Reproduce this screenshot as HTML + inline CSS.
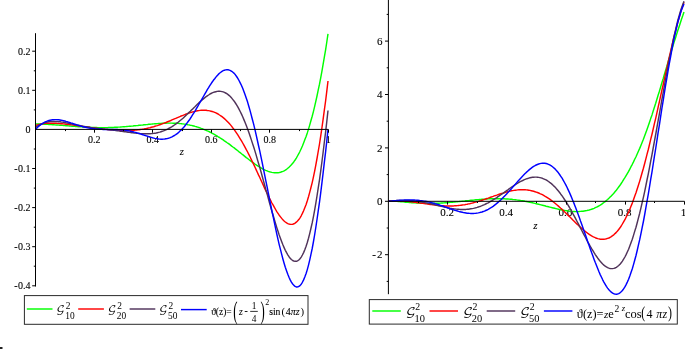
<!DOCTYPE html>
<html lang="en"><head><meta charset="utf-8"><title>Plots</title>
<style>html,body{margin:0;padding:0;background:#fff}svg{display:block}text{font-family:"Liberation Serif","DejaVu Serif",serif;fill:#000}.t{font-size:10px;stroke:#000;stroke-width:.1px}.t2{font-size:11px;stroke:#000;stroke-width:.1px}.i{font-style:italic}.sg{font-family:"DejaVu Math TeX Gyre","DejaVu Serif","Liberation Serif",serif}.c{fill:none;stroke-width:1.45;stroke-linejoin:round;stroke-linecap:butt}.ax{stroke:#000;stroke-width:1;fill:none}</style></head><body>
<svg width="685" height="349" viewBox="0 0 685 349">
<rect width="685" height="349" fill="#fff"/>
<defs><clipPath id="cl"><rect x="0" y="0" width="329.2" height="349"/></clipPath><clipPath id="cr"><rect x="343" y="0" width="342" height="349"/></clipPath></defs>
<text class="t" x="30.4" y="54.8" text-anchor="end">0.2</text>
<text class="t" x="30.4" y="93.9" text-anchor="end">0.1</text>
<text class="t" x="30.4" y="133.0" text-anchor="end">0</text>
<text class="t" y="172.1" text-anchor="end"><tspan x="17.6" dy="-0.4">-</tspan><tspan x="30.4" dy="0.4">0.1</tspan></text>
<text class="t" y="211.2" text-anchor="end"><tspan x="17.6" dy="-0.4">-</tspan><tspan x="30.4" dy="0.4">0.2</tspan></text>
<text class="t" y="250.3" text-anchor="end"><tspan x="17.6" dy="-0.4">-</tspan><tspan x="30.4" dy="0.4">0.3</tspan></text>
<text class="t" y="289.4" text-anchor="end"><tspan x="17.6" dy="-0.4">-</tspan><tspan x="30.4" dy="0.4">0.4</tspan></text>
<text class="t" x="94.2" y="142.9" text-anchor="middle">0.2</text>
<text class="t" x="152.7" y="142.9" text-anchor="middle">0.4</text>
<text class="t" x="211.2" y="142.9" text-anchor="middle">0.6</text>
<text class="t" x="269.7" y="142.9" text-anchor="middle">0.8</text>
<text class="t" x="328.2" y="142.9" text-anchor="middle">1</text>
<text class="t i" x="181.7" y="154.9" text-anchor="middle" style="font-size:10.6px">z</text>
<text class="t2" x="382.6" y="44.8" text-anchor="end">6</text>
<text class="t2" x="382.6" y="98.2" text-anchor="end">4</text>
<text class="t2" x="382.6" y="151.6" text-anchor="end">2</text>
<text class="t2" x="382.6" y="205.0" text-anchor="end">0</text>
<text class="t2" y="258.4" text-anchor="end"><tspan x="375.9" dy="-0.4">-</tspan><tspan x="382.6" dy="0.4">2</tspan></text>
<text class="t2" x="447.1" y="216.2" text-anchor="middle">0.2</text>
<text class="t2" x="506.2" y="216.2" text-anchor="middle">0.4</text>
<text class="t2" x="565.4" y="216.2" text-anchor="middle">0.6</text>
<text class="t2" x="624.5" y="216.2" text-anchor="middle">0.8</text>
<text class="t2" x="683.6" y="216.2" text-anchor="middle">1</text>
<text class="t2 i" x="535.4" y="228.7" text-anchor="middle">z</text>
<g clip-path="url(#cl)">
<polyline class="c" stroke="#00ff00" points="35.5,123.9 36.7,123.9 37.9,124.0 39.2,124.0 40.4,124.0 41.6,124.1 42.8,124.1 44.0,124.2 45.2,124.2 46.5,124.3 47.7,124.4 48.9,124.5 50.1,124.5 51.3,124.6 52.6,124.7 53.8,124.8 55.0,124.9 56.2,125.0 57.4,125.0 58.7,125.1 59.9,125.2 61.1,125.3 62.3,125.4 63.5,125.5 64.8,125.6 66.0,125.7 67.2,125.8 68.4,125.9 69.6,126.0 70.8,126.1 72.1,126.2 73.3,126.3 74.5,126.4 75.7,126.5 76.9,126.6 78.2,126.7 79.4,126.7 80.6,126.8 81.8,126.9 83.0,127.0 84.2,127.1 85.5,127.1 86.7,127.2 87.9,127.2 89.1,127.3 90.3,127.4 91.6,127.4 92.8,127.4 94.0,127.5 95.2,127.5 96.4,127.5 97.7,127.6 98.9,127.6 100.1,127.6 101.3,127.6 102.5,127.6 103.8,127.6 105.0,127.6 106.2,127.6 107.4,127.6 108.6,127.5 109.8,127.5 111.1,127.5 112.3,127.4 113.5,127.4 114.7,127.3 115.9,127.3 117.2,127.2 118.4,127.1 119.6,127.1 120.8,127.0 122.0,126.9 123.2,126.8 124.5,126.7 125.7,126.6 126.9,126.5 128.1,126.4 129.3,126.3 130.6,126.2 131.8,126.1 133.0,126.0 134.2,125.8 135.4,125.7 136.7,125.6 137.9,125.5 139.1,125.3 140.3,125.2 141.5,125.1 142.8,125.0 144.0,124.8 145.2,124.7 146.4,124.6 147.6,124.5 148.8,124.3 150.1,124.2 151.3,124.1 152.5,124.0 153.7,123.9 154.9,123.8 156.2,123.7 157.4,123.6 158.6,123.5 159.8,123.4 161.0,123.4 162.2,123.3 163.5,123.3 164.7,123.2 165.9,123.2 167.1,123.1 168.3,123.1 169.6,123.1 170.8,123.1 172.0,123.1 173.2,123.2 174.4,123.2 175.7,123.3 176.9,123.3 178.1,123.4 179.3,123.5 180.5,123.6 181.8,123.8 183.0,123.9 184.2,124.1 185.4,124.2 186.6,124.4 187.8,124.7 189.1,124.9 190.3,125.2 191.5,125.4 192.7,125.7 193.9,126.0 195.2,126.4 196.4,126.7 197.6,127.1 198.8,127.5 200.0,127.9 201.2,128.4 202.5,128.8 203.7,129.3 204.9,129.8 206.1,130.3 207.3,130.9 208.6,131.4 209.8,132.0 211.0,132.7 212.2,133.3 213.4,133.9 214.7,134.6 215.9,135.3 217.1,136.0 218.3,136.8 219.5,137.5 220.8,138.3 222.0,139.1 223.2,139.9 224.4,140.8 225.6,141.6 226.8,142.5 228.1,143.3 229.3,144.2 230.5,145.1 231.7,146.1 232.9,147.0 234.2,147.9 235.4,148.9 236.6,149.8 237.8,150.8 239.0,151.8 240.2,152.7 241.5,153.7 242.7,154.7 243.9,155.6 245.1,156.6 246.3,157.6 247.6,158.5 248.8,159.5 250.0,160.4 251.2,161.3 252.4,162.2 253.7,163.1 254.9,164.0 256.1,164.8 257.3,165.6 258.5,166.4 259.8,167.2 261.0,167.9 262.2,168.6 263.4,169.3 264.6,169.9 265.8,170.4 267.1,170.9 268.3,171.4 269.5,171.8 270.7,172.1 271.9,172.4 273.2,172.6 274.4,172.7 275.6,172.8 276.8,172.8 278.0,172.7 279.2,172.5 280.5,172.2 281.7,171.8 282.9,171.4 284.1,170.8 285.3,170.1 286.6,169.3 287.8,168.3 289.0,167.3 290.2,166.1 291.4,164.8 292.7,163.3 293.9,161.7 295.1,160.0 296.3,158.1 297.5,156.0 298.8,153.7 300.0,151.3 301.2,148.7 302.4,146.0 303.6,143.0 304.8,139.8 306.1,136.4 307.3,132.9 308.5,129.1 309.7,125.1 310.9,120.8 312.2,116.3 313.4,111.6 314.6,106.7 315.8,101.4 317.0,96.0 318.2,90.2 319.5,84.2 320.7,77.9 321.9,71.3 323.1,64.4 324.3,57.3 325.6,49.8 326.8,42.0 328.0,33.9"/>
<polyline class="c" stroke="#ff0000" points="35.5,125.5 36.7,125.1 37.9,124.8 39.2,124.4 40.4,124.2 41.6,123.9 42.8,123.7 44.0,123.6 45.2,123.4 46.5,123.3 47.7,123.2 48.9,123.2 50.1,123.2 51.3,123.1 52.6,123.2 53.8,123.2 55.0,123.2 56.2,123.3 57.4,123.4 58.7,123.5 59.9,123.6 61.1,123.7 62.3,123.8 63.5,123.9 64.8,124.0 66.0,124.2 67.2,124.3 68.4,124.5 69.6,124.6 70.8,124.8 72.1,124.9 73.3,125.1 74.5,125.3 75.7,125.4 76.9,125.6 78.2,125.8 79.4,125.9 80.6,126.1 81.8,126.3 83.0,126.5 84.2,126.6 85.5,126.8 86.7,127.0 87.9,127.1 89.1,127.3 90.3,127.5 91.6,127.6 92.8,127.8 94.0,127.9 95.2,128.1 96.4,128.3 97.7,128.4 98.9,128.6 100.1,128.7 101.3,128.9 102.5,129.0 103.8,129.1 105.0,129.3 106.2,129.4 107.4,129.5 108.6,129.6 109.8,129.7 111.1,129.8 112.3,129.9 113.5,130.0 114.7,130.1 115.9,130.2 117.2,130.3 118.4,130.3 119.6,130.4 120.8,130.4 122.0,130.5 123.2,130.5 124.5,130.5 125.7,130.5 126.9,130.5 128.1,130.5 129.3,130.5 130.6,130.4 131.8,130.4 133.0,130.3 134.2,130.2 135.4,130.1 136.7,130.0 137.9,129.8 139.1,129.7 140.3,129.5 141.5,129.4 142.8,129.2 144.0,129.0 145.2,128.7 146.4,128.5 147.6,128.2 148.8,127.9 150.1,127.7 151.3,127.3 152.5,127.0 153.7,126.7 154.9,126.3 156.2,125.9 157.4,125.6 158.6,125.1 159.8,124.7 161.0,124.3 162.2,123.9 163.5,123.4 164.7,122.9 165.9,122.5 167.1,122.0 168.3,121.5 169.6,121.0 170.8,120.5 172.0,119.9 173.2,119.4 174.4,118.9 175.7,118.4 176.9,117.8 178.1,117.3 179.3,116.8 180.5,116.3 181.8,115.8 183.0,115.3 184.2,114.8 185.4,114.3 186.6,113.9 187.8,113.5 189.1,113.0 190.3,112.6 191.5,112.3 192.7,111.9 193.9,111.6 195.2,111.3 196.4,111.0 197.6,110.8 198.8,110.6 200.0,110.4 201.2,110.3 202.5,110.3 203.7,110.2 204.9,110.3 206.1,110.3 207.3,110.5 208.6,110.6 209.8,110.9 211.0,111.2 212.2,111.5 213.4,111.9 214.7,112.4 215.9,112.9 217.1,113.5 218.3,114.2 219.5,115.0 220.8,115.8 222.0,116.7 223.2,117.6 224.4,118.6 225.6,119.7 226.8,120.9 228.1,122.2 229.3,123.5 230.5,124.9 231.7,126.4 232.9,128.0 234.2,129.6 235.4,131.3 236.6,133.1 237.8,134.9 239.0,136.8 240.2,138.8 241.5,140.9 242.7,143.0 243.9,145.1 245.1,147.4 246.3,149.7 247.6,152.0 248.8,154.4 250.0,156.8 251.2,159.3 252.4,161.9 253.7,164.4 254.9,167.0 256.1,169.6 257.3,172.2 258.5,174.9 259.8,177.5 261.0,180.2 262.2,182.8 263.4,185.4 264.6,188.1 265.8,190.7 267.1,193.2 268.3,195.7 269.5,198.2 270.7,200.6 271.9,203.0 273.2,205.2 274.4,207.4 275.6,209.5 276.8,211.6 278.0,213.4 279.2,215.2 280.5,216.9 281.7,218.4 282.9,219.8 284.1,221.0 285.3,222.0 286.6,222.9 287.8,223.6 289.0,224.0 290.2,224.3 291.4,224.4 292.7,224.2 293.9,223.8 295.1,223.1 296.3,222.2 297.5,221.0 298.8,219.6 300.0,217.8 301.2,215.8 302.4,213.4 303.6,210.8 304.8,207.8 306.1,204.5 307.3,200.8 308.5,196.8 309.7,192.4 310.9,187.7 312.2,182.6 313.4,177.2 314.6,171.3 315.8,165.1 317.0,158.5 318.2,151.5 319.5,144.0 320.7,136.2 321.9,128.0 323.1,119.4 324.3,110.4 325.6,101.0 326.8,91.2 328.0,81.0"/>
<polyline class="c" stroke="#50335a" points="35.5,127.6 36.7,126.7 37.9,125.9 39.2,125.1 40.4,124.5 41.6,123.9 42.8,123.4 44.0,122.9 45.2,122.6 46.5,122.2 47.7,122.0 48.9,121.8 50.1,121.6 51.3,121.5 52.6,121.4 53.8,121.4 55.0,121.4 56.2,121.5 57.4,121.6 58.7,121.7 59.9,121.8 61.1,122.0 62.3,122.1 63.5,122.3 64.8,122.5 66.0,122.8 67.2,123.0 68.4,123.2 69.6,123.5 70.8,123.7 72.1,124.0 73.3,124.3 74.5,124.5 75.7,124.8 76.9,125.0 78.2,125.3 79.4,125.5 80.6,125.8 81.8,126.0 83.0,126.2 84.2,126.4 85.5,126.6 86.7,126.8 87.9,127.0 89.1,127.2 90.3,127.4 91.6,127.6 92.8,127.8 94.0,127.9 95.2,128.1 96.4,128.3 97.7,128.4 98.9,128.6 100.1,128.7 101.3,128.8 102.5,129.0 103.8,129.1 105.0,129.3 106.2,129.4 107.4,129.5 108.6,129.7 109.8,129.8 111.1,130.0 112.3,130.1 113.5,130.2 114.7,130.4 115.9,130.6 117.2,130.7 118.4,130.9 119.6,131.0 120.8,131.2 122.0,131.3 123.2,131.5 124.5,131.7 125.7,131.8 126.9,132.0 128.1,132.2 129.3,132.4 130.6,132.5 131.8,132.7 133.0,132.8 134.2,133.0 135.4,133.1 136.7,133.3 137.9,133.4 139.1,133.5 140.3,133.6 141.5,133.7 142.8,133.7 144.0,133.8 145.2,133.8 146.4,133.8 147.6,133.8 148.8,133.8 150.1,133.7 151.3,133.6 152.5,133.5 153.7,133.4 154.9,133.2 156.2,133.0 157.4,132.7 158.6,132.4 159.8,132.1 161.0,131.7 162.2,131.3 163.5,130.9 164.7,130.4 165.9,129.9 167.1,129.3 168.3,128.7 169.6,128.0 170.8,127.3 172.0,126.6 173.2,125.8 174.4,125.0 175.7,124.1 176.9,123.2 178.1,122.3 179.3,121.3 180.5,120.3 181.8,119.2 183.0,118.2 184.2,117.1 185.4,115.9 186.6,114.8 187.8,113.6 189.1,112.4 190.3,111.3 191.5,110.1 192.7,108.9 193.9,107.7 195.2,106.5 196.4,105.3 197.6,104.1 198.8,102.9 200.0,101.8 201.2,100.7 202.5,99.6 203.7,98.6 204.9,97.6 206.1,96.7 207.3,95.8 208.6,95.0 209.8,94.2 211.0,93.5 212.2,92.9 213.4,92.4 214.7,92.0 215.9,91.7 217.1,91.4 218.3,91.3 219.5,91.3 220.8,91.4 222.0,91.6 223.2,91.9 224.4,92.4 225.6,93.0 226.8,93.7 228.1,94.6 229.3,95.6 230.5,96.8 231.7,98.1 232.9,99.6 234.2,101.2 235.4,103.0 236.6,104.9 237.8,106.9 239.0,109.2 240.2,111.5 241.5,114.1 242.7,116.7 243.9,119.6 245.1,122.5 246.3,125.6 247.6,128.9 248.8,132.2 250.0,135.7 251.2,139.4 252.4,143.1 253.7,147.0 254.9,150.9 256.1,154.9 257.3,159.1 258.5,163.3 259.8,167.5 261.0,171.8 262.2,176.2 263.4,180.6 264.6,185.0 265.8,189.5 267.1,193.9 268.3,198.3 269.5,202.7 270.7,207.0 271.9,211.3 273.2,215.5 274.4,219.6 275.6,223.7 276.8,227.6 278.0,231.3 279.2,234.9 280.5,238.4 281.7,241.7 282.9,244.8 284.1,247.6 285.3,250.3 286.6,252.7 287.8,254.8 289.0,256.7 290.2,258.2 291.4,259.5 292.7,260.5 293.9,261.1 295.1,261.3 296.3,261.3 297.5,260.8 298.8,260.0 300.0,258.7 301.2,257.1 302.4,255.0 303.6,252.6 304.8,249.7 306.1,246.3 307.3,242.5 308.5,238.3 309.7,233.6 310.9,228.5 312.2,222.9 313.4,216.9 314.6,210.4 315.8,203.4 317.0,196.0 318.2,188.2 319.5,179.9 320.7,171.2 321.9,162.0 323.1,152.5 324.3,142.5 325.6,132.2 326.8,121.5 328.0,110.5"/>
<polyline class="c" stroke="#0000ff" points="35.5,129.4 36.7,128.2 37.9,127.0 39.2,125.9 40.4,125.0 41.6,124.1 42.8,123.3 44.0,122.6 45.2,121.9 46.5,121.4 47.7,120.9 48.9,120.5 50.1,120.2 51.3,120.0 52.6,119.8 53.8,119.7 55.0,119.6 56.2,119.6 57.4,119.7 58.7,119.8 59.9,120.0 61.1,120.2 62.3,120.4 63.5,120.7 64.8,121.0 66.0,121.4 67.2,121.7 68.4,122.1 69.6,122.5 70.8,122.9 72.1,123.3 73.3,123.7 74.5,124.1 75.7,124.5 76.9,124.9 78.2,125.3 79.4,125.7 80.6,126.0 81.8,126.4 83.0,126.7 84.2,127.0 85.5,127.3 86.7,127.6 87.9,127.9 89.1,128.1 90.3,128.3 91.6,128.5 92.8,128.7 94.0,128.8 95.2,129.0 96.4,129.1 97.7,129.2 98.9,129.2 100.1,129.3 101.3,129.3 102.5,129.4 103.8,129.4 105.0,129.4 106.2,129.4 107.4,129.4 108.6,129.4 109.8,129.4 111.1,129.4 112.3,129.4 113.5,129.4 114.7,129.4 115.9,129.5 117.2,129.5 118.4,129.6 119.6,129.6 120.8,129.7 122.0,129.8 123.2,130.0 124.5,130.1 125.7,130.3 126.9,130.5 128.1,130.7 129.3,130.9 130.6,131.2 131.8,131.5 133.0,131.8 134.2,132.1 135.4,132.4 136.7,132.8 137.9,133.1 139.1,133.5 140.3,133.9 141.5,134.3 142.8,134.7 144.0,135.1 145.2,135.5 146.4,135.9 147.6,136.3 148.8,136.7 150.1,137.1 151.3,137.4 152.5,137.8 153.7,138.1 154.9,138.4 156.2,138.6 157.4,138.8 158.6,139.0 159.8,139.1 161.0,139.2 162.2,139.2 163.5,139.1 164.7,139.0 165.9,138.8 167.1,138.6 168.3,138.3 169.6,137.9 170.8,137.4 172.0,136.9 173.2,136.2 174.4,135.5 175.7,134.7 176.9,133.8 178.1,132.9 179.3,131.8 180.5,130.6 181.8,129.4 183.0,128.1 184.2,126.7 185.4,125.2 186.6,123.6 187.8,122.0 189.1,120.3 190.3,118.5 191.5,116.6 192.7,114.7 193.9,112.8 195.2,110.8 196.4,108.7 197.6,106.6 198.8,104.5 200.0,102.4 201.2,100.3 202.5,98.1 203.7,96.0 204.9,93.9 206.1,91.8 207.3,89.7 208.6,87.7 209.8,85.7 211.0,83.8 212.2,82.0 213.4,80.3 214.7,78.7 215.9,77.1 217.1,75.7 218.3,74.4 219.5,73.3 220.8,72.3 222.0,71.4 223.2,70.7 224.4,70.2 225.6,69.9 226.8,69.8 228.1,69.8 229.3,70.1 230.5,70.6 231.7,71.3 232.9,72.3 234.2,73.4 235.4,74.8 236.6,76.5 237.8,78.4 239.0,80.5 240.2,82.9 241.5,85.5 242.7,88.3 243.9,91.4 245.1,94.8 246.3,98.3 247.6,102.1 248.8,106.2 250.0,110.4 251.2,114.9 252.4,119.5 253.7,124.4 254.9,129.4 256.1,134.6 257.3,140.0 258.5,145.5 259.8,151.1 261.0,156.9 262.2,162.7 263.4,168.6 264.6,174.6 265.8,180.7 267.1,186.8 268.3,192.8 269.5,198.9 270.7,205.0 271.9,211.0 273.2,216.9 274.4,222.7 275.6,228.4 276.8,234.0 278.0,239.4 279.2,244.6 280.5,249.6 281.7,254.4 282.9,259.0 284.1,263.3 285.3,267.3 286.6,270.9 287.8,274.3 289.0,277.3 290.2,279.9 291.4,282.1 292.7,284.0 293.9,285.4 295.1,286.3 296.3,286.9 297.5,286.9 298.8,286.5 300.0,285.6 301.2,284.2 302.4,282.3 303.6,279.9 304.8,277.0 306.1,273.5 307.3,269.6 308.5,265.1 309.7,260.1 310.9,254.6 312.2,248.5 313.4,242.0 314.6,235.0 315.8,227.5 317.0,219.5 318.2,211.1 319.5,202.2 320.7,192.9 321.9,183.2 323.1,173.1 324.3,162.7 325.6,151.9 326.8,140.8 328.0,129.4"/>
</g>
<g clip-path="url(#cr)">
<polyline class="c" stroke="#00ff00" points="388.4,200.6 389.6,200.7 390.9,200.8 392.1,200.9 393.3,201.0 394.6,201.1 395.8,201.2 397.0,201.4 398.3,201.5 399.5,201.6 400.7,201.7 401.9,201.8 403.2,201.9 404.4,202.1 405.6,202.2 406.9,202.3 408.1,202.4 409.3,202.5 410.6,202.6 411.8,202.7 413.0,202.8 414.3,202.8 415.5,202.9 416.7,203.0 418.0,203.1 419.2,203.1 420.4,203.2 421.7,203.2 422.9,203.3 424.1,203.3 425.3,203.3 426.6,203.4 427.8,203.4 429.0,203.4 430.3,203.4 431.5,203.4 432.7,203.3 434.0,203.3 435.2,203.3 436.4,203.3 437.7,203.2 438.9,203.2 440.1,203.1 441.4,203.0 442.6,203.0 443.8,202.9 445.1,202.8 446.3,202.7 447.5,202.6 448.8,202.5 450.0,202.4 451.2,202.3 452.4,202.2 453.7,202.1 454.9,202.0 456.1,201.9 457.4,201.8 458.6,201.6 459.8,201.5 461.1,201.4 462.3,201.2 463.5,201.1 464.8,201.0 466.0,200.8 467.2,200.7 468.5,200.6 469.7,200.4 470.9,200.3 472.2,200.2 473.4,200.1 474.6,199.9 475.8,199.8 477.1,199.7 478.3,199.6 479.5,199.5 480.8,199.4 482.0,199.3 483.2,199.2 484.5,199.1 485.7,199.0 486.9,199.0 488.2,198.9 489.4,198.8 490.6,198.8 491.9,198.7 493.1,198.7 494.3,198.7 495.6,198.7 496.8,198.7 498.0,198.7 499.2,198.7 500.5,198.7 501.7,198.7 502.9,198.8 504.2,198.8 505.4,198.9 506.6,198.9 507.9,199.0 509.1,199.1 510.3,199.2 511.6,199.3 512.8,199.5 514.0,199.6 515.3,199.7 516.5,199.9 517.7,200.1 519.0,200.2 520.2,200.4 521.4,200.6 522.7,200.8 523.9,201.0 525.1,201.3 526.3,201.5 527.6,201.7 528.8,202.0 530.0,202.3 531.3,202.5 532.5,202.8 533.7,203.1 535.0,203.4 536.2,203.7 537.4,204.0 538.7,204.3 539.9,204.6 541.1,204.9 542.4,205.2 543.6,205.5 544.8,205.8 546.1,206.2 547.3,206.5 548.5,206.8 549.7,207.1 551.0,207.4 552.2,207.7 553.4,208.0 554.7,208.3 555.9,208.6 557.1,208.9 558.4,209.2 559.6,209.5 560.8,209.7 562.1,210.0 563.3,210.2 564.5,210.4 565.8,210.6 567.0,210.8 568.2,211.0 569.5,211.1 570.7,211.3 571.9,211.4 573.1,211.5 574.4,211.5 575.6,211.6 576.8,211.6 578.1,211.6 579.3,211.5 580.5,211.4 581.8,211.3 583.0,211.2 584.2,211.0 585.5,210.8 586.7,210.6 587.9,210.3 589.2,210.0 590.4,209.6 591.6,209.2 592.9,208.8 594.1,208.3 595.3,207.7 596.6,207.1 597.8,206.5 599.0,205.8 600.2,205.1 601.5,204.3 602.7,203.4 603.9,202.5 605.2,201.6 606.4,200.5 607.6,199.5 608.9,198.3 610.1,197.1 611.3,195.9 612.6,194.6 613.8,193.2 615.0,191.7 616.3,190.2 617.5,188.6 618.7,187.0 620.0,185.3 621.2,183.5 622.4,181.7 623.6,179.7 624.9,177.7 626.1,175.7 627.3,173.6 628.6,171.4 629.8,169.1 631.0,166.7 632.3,164.3 633.5,161.9 634.7,159.3 636.0,156.7 637.2,154.0 638.4,151.2 639.7,148.4 640.9,145.5 642.1,142.5 643.4,139.3 644.6,136.1 645.8,132.8 647.0,129.4 648.3,125.8 649.5,122.3 650.7,118.6 652.0,114.9 653.2,111.0 654.4,107.2 655.7,103.3 656.9,99.3 658.1,95.3 659.4,91.2 660.6,87.1 661.8,83.0 663.1,78.9 664.3,74.8 665.5,70.6 666.8,66.5 668.0,62.3 669.2,58.2 670.5,54.2 671.7,50.1 672.9,46.1 674.1,42.1 675.4,38.2 676.6,34.4 677.8,30.5 679.1,26.7 680.3,23.0 681.5,19.2 682.8,15.6 684.0,12.0"/>
<polyline class="c" stroke="#ff0000" points="388.4,200.9 389.6,200.8 390.9,200.8 392.1,200.7 393.3,200.7 394.6,200.7 395.8,200.7 397.0,200.7 398.3,200.8 399.5,200.8 400.7,200.9 401.9,200.9 403.2,201.0 404.4,201.1 405.6,201.2 406.9,201.3 408.1,201.4 409.3,201.6 410.6,201.7 411.8,201.8 413.0,202.0 414.3,202.2 415.5,202.3 416.7,202.5 418.0,202.7 419.2,202.8 420.4,203.0 421.7,203.2 422.9,203.4 424.1,203.6 425.3,203.7 426.6,203.9 427.8,204.1 429.0,204.3 430.3,204.5 431.5,204.6 432.7,204.8 434.0,204.9 435.2,205.1 436.4,205.2 437.7,205.3 438.9,205.5 440.1,205.6 441.4,205.7 442.6,205.7 443.8,205.8 445.1,205.9 446.3,205.9 447.5,206.0 448.8,206.0 450.0,206.0 451.2,205.9 452.4,205.9 453.7,205.9 454.9,205.8 456.1,205.7 457.4,205.6 458.6,205.5 459.8,205.4 461.1,205.2 462.3,205.0 463.5,204.9 464.8,204.7 466.0,204.4 467.2,204.2 468.5,203.9 469.7,203.7 470.9,203.4 472.2,203.1 473.4,202.8 474.6,202.4 475.8,202.1 477.1,201.7 478.3,201.4 479.5,201.0 480.8,200.6 482.0,200.2 483.2,199.8 484.5,199.4 485.7,199.0 486.9,198.5 488.2,198.1 489.4,197.7 490.6,197.2 491.9,196.8 493.1,196.4 494.3,195.9 495.6,195.5 496.8,195.1 498.0,194.6 499.2,194.2 500.5,193.8 501.7,193.4 502.9,193.1 504.2,192.7 505.4,192.3 506.6,192.0 507.9,191.7 509.1,191.4 510.3,191.1 511.6,190.8 512.8,190.6 514.0,190.4 515.3,190.2 516.5,190.1 517.7,189.9 519.0,189.8 520.2,189.8 521.4,189.7 522.7,189.7 523.9,189.7 525.1,189.8 526.3,189.9 527.6,190.0 528.8,190.2 530.0,190.4 531.3,190.7 532.5,191.0 533.7,191.3 535.0,191.7 536.2,192.1 537.4,192.5 538.7,193.0 539.9,193.6 541.1,194.1 542.4,194.7 543.6,195.4 544.8,196.1 546.1,196.8 547.3,197.6 548.5,198.4 549.7,199.2 551.0,200.1 552.2,201.0 553.4,202.0 554.7,203.0 555.9,204.0 557.1,205.0 558.4,206.1 559.6,207.2 560.8,208.3 562.1,209.4 563.3,210.6 564.5,211.8 565.8,213.0 567.0,214.2 568.2,215.4 569.5,216.6 570.7,217.8 571.9,219.0 573.1,220.3 574.4,221.5 575.6,222.7 576.8,223.9 578.1,225.0 579.3,226.2 580.5,227.3 581.8,228.4 583.0,229.5 584.2,230.6 585.5,231.6 586.7,232.5 587.9,233.4 589.2,234.3 590.4,235.1 591.6,235.9 592.9,236.6 594.1,237.2 595.3,237.7 596.6,238.2 597.8,238.6 599.0,238.9 600.2,239.2 601.5,239.3 602.7,239.3 603.9,239.3 605.2,239.1 606.4,238.8 607.6,238.4 608.9,238.0 610.1,237.3 611.3,236.6 612.6,235.7 613.8,234.8 615.0,233.6 616.3,232.4 617.5,231.0 618.7,229.5 620.0,227.8 621.2,226.0 622.4,224.0 623.6,221.9 624.9,219.7 626.1,217.3 627.3,214.8 628.6,212.1 629.8,209.2 631.0,206.2 632.3,203.1 633.5,199.8 634.7,196.3 636.0,192.8 637.2,189.0 638.4,185.2 639.7,181.1 640.9,177.0 642.1,172.7 643.4,168.3 644.6,163.8 645.8,159.1 647.0,154.4 648.3,149.5 649.5,144.5 650.7,139.4 652.0,134.2 653.2,129.0 654.4,123.6 655.7,118.3 656.9,112.8 658.1,107.3 659.4,101.7 660.6,96.2 661.8,90.6 663.1,85.0 664.3,79.4 665.5,73.8 666.8,68.3 668.0,62.8 669.2,57.3 670.5,52.0 671.7,46.7 672.9,41.5 674.1,36.4 675.4,31.5 676.6,26.7 677.8,22.1 679.1,17.7 680.3,13.5 681.5,9.5 682.8,5.7 684.0,2.2"/>
<polyline class="c" stroke="#50335a" points="388.4,201.1 389.6,201.0 390.9,200.9 392.1,200.8 393.3,200.7 394.6,200.6 395.8,200.6 397.0,200.5 398.3,200.5 399.5,200.4 400.7,200.4 401.9,200.4 403.2,200.4 404.4,200.4 405.6,200.4 406.9,200.4 408.1,200.5 409.3,200.5 410.6,200.6 411.8,200.7 413.0,200.8 414.3,200.9 415.5,201.1 416.7,201.2 418.0,201.4 419.2,201.6 420.4,201.8 421.7,202.0 422.9,202.2 424.1,202.4 425.3,202.7 426.6,202.9 427.8,203.2 429.0,203.4 430.3,203.7 431.5,204.0 432.7,204.3 434.0,204.6 435.2,204.9 436.4,205.2 437.7,205.5 438.9,205.7 440.1,206.0 441.4,206.3 442.6,206.6 443.8,206.9 445.1,207.2 446.3,207.4 447.5,207.7 448.8,207.9 450.0,208.2 451.2,208.4 452.4,208.6 453.7,208.8 454.9,208.9 456.1,209.1 457.4,209.2 458.6,209.3 459.8,209.4 461.1,209.4 462.3,209.5 463.5,209.5 464.8,209.4 466.0,209.4 467.2,209.3 468.5,209.2 469.7,209.0 470.9,208.8 472.2,208.6 473.4,208.4 474.6,208.1 475.8,207.8 477.1,207.4 478.3,207.0 479.5,206.6 480.8,206.2 482.0,205.7 483.2,205.1 484.5,204.6 485.7,204.0 486.9,203.4 488.2,202.8 489.4,202.1 490.6,201.4 491.9,200.7 493.1,199.9 494.3,199.2 495.6,198.4 496.8,197.6 498.0,196.7 499.2,195.9 500.5,195.0 501.7,194.2 502.9,193.3 504.2,192.4 505.4,191.5 506.6,190.7 507.9,189.8 509.1,188.9 510.3,188.0 511.6,187.2 512.8,186.3 514.0,185.5 515.3,184.7 516.5,183.9 517.7,183.2 519.0,182.4 520.2,181.7 521.4,181.1 522.7,180.5 523.9,179.9 525.1,179.4 526.3,178.9 527.6,178.5 528.8,178.1 530.0,177.8 531.3,177.5 532.5,177.3 533.7,177.2 535.0,177.1 536.2,177.1 537.4,177.2 538.7,177.4 539.9,177.6 541.1,177.9 542.4,178.3 543.6,178.8 544.8,179.3 546.1,179.9 547.3,180.7 548.5,181.5 549.7,182.4 551.0,183.3 552.2,184.4 553.4,185.6 554.7,186.8 555.9,188.1 557.1,189.5 558.4,191.0 559.6,192.5 560.8,194.2 562.1,195.9 563.3,197.7 564.5,199.5 565.8,201.4 567.0,203.4 568.2,205.4 569.5,207.5 570.7,209.7 571.9,211.9 573.1,214.1 574.4,216.4 575.6,218.7 576.8,221.0 578.1,223.4 579.3,225.7 580.5,228.1 581.8,230.5 583.0,232.8 584.2,235.2 585.5,237.5 586.7,239.8 587.9,242.1 589.2,244.4 590.4,246.5 591.6,248.7 592.9,250.7 594.1,252.7 595.3,254.6 596.6,256.5 597.8,258.2 599.0,259.8 600.2,261.3 601.5,262.7 602.7,264.0 603.9,265.1 605.2,266.1 606.4,266.9 607.6,267.6 608.9,268.1 610.1,268.5 611.3,268.6 612.6,268.6 613.8,268.4 615.0,268.0 616.3,267.4 617.5,266.5 618.7,265.5 620.0,264.2 621.2,262.8 622.4,261.1 623.6,259.2 624.9,257.0 626.1,254.6 627.3,252.0 628.6,249.2 629.8,246.1 631.0,242.8 632.3,239.2 633.5,235.4 634.7,231.4 636.0,227.2 637.2,222.8 638.4,218.1 639.7,213.2 640.9,208.2 642.1,202.9 643.4,197.4 644.6,191.8 645.8,186.0 647.0,180.0 648.3,173.9 649.5,167.6 650.7,161.2 652.0,154.7 653.2,148.0 654.4,141.3 655.7,134.5 656.9,127.7 658.1,120.8 659.4,113.9 660.6,107.0 661.8,100.1 663.1,93.2 664.3,86.4 665.5,79.6 666.8,72.9 668.0,66.4 669.2,59.9 670.5,53.7 671.7,47.6 672.9,41.7 674.1,36.0 675.4,30.6 676.6,25.4 677.8,20.5 679.1,16.0 680.3,11.7 681.5,7.9 682.8,4.4 684.0,1.3"/>
<polyline class="c" stroke="#0000ff" points="388.4,201.3 389.6,201.2 390.9,201.1 392.1,201.0 393.3,200.8 394.6,200.7 395.8,200.6 397.0,200.5 398.3,200.4 399.5,200.3 400.7,200.3 401.9,200.2 403.2,200.1 404.4,200.0 405.6,200.0 406.9,200.0 408.1,199.9 409.3,199.9 410.6,199.9 411.8,200.0 413.0,200.0 414.3,200.0 415.5,200.1 416.7,200.2 418.0,200.3 419.2,200.4 420.4,200.6 421.7,200.7 422.9,200.9 424.1,201.1 425.3,201.3 426.6,201.5 427.8,201.8 429.0,202.1 430.3,202.3 431.5,202.6 432.7,203.0 434.0,203.3 435.2,203.7 436.4,204.0 437.7,204.4 438.9,204.8 440.1,205.2 441.4,205.6 442.6,206.0 443.8,206.5 445.1,206.9 446.3,207.3 447.5,207.7 448.8,208.2 450.0,208.6 451.2,209.0 452.4,209.5 453.7,209.9 454.9,210.3 456.1,210.6 457.4,211.0 458.6,211.4 459.8,211.7 461.1,212.0 462.3,212.3 463.5,212.6 464.8,212.8 466.0,213.0 467.2,213.2 468.5,213.3 469.7,213.4 470.9,213.5 472.2,213.5 473.4,213.5 474.6,213.4 475.8,213.3 477.1,213.1 478.3,212.9 479.5,212.6 480.8,212.3 482.0,212.0 483.2,211.5 484.5,211.1 485.7,210.5 486.9,210.0 488.2,209.3 489.4,208.6 490.6,207.9 491.9,207.1 493.1,206.3 494.3,205.4 495.6,204.4 496.8,203.4 498.0,202.4 499.2,201.3 500.5,200.2 501.7,199.0 502.9,197.8 504.2,196.5 505.4,195.3 506.6,194.0 507.9,192.6 509.1,191.3 510.3,189.9 511.6,188.5 512.8,187.1 514.0,185.7 515.3,184.3 516.5,182.9 517.7,181.5 519.0,180.1 520.2,178.7 521.4,177.4 522.7,176.1 523.9,174.8 525.1,173.6 526.3,172.4 527.6,171.2 528.8,170.1 530.0,169.1 531.3,168.1 532.5,167.2 533.7,166.4 535.0,165.7 536.2,165.0 537.4,164.5 538.7,164.0 539.9,163.6 541.1,163.4 542.4,163.2 543.6,163.2 544.8,163.3 546.1,163.5 547.3,163.8 548.5,164.3 549.7,164.9 551.0,165.6 552.2,166.5 553.4,167.5 554.7,168.6 555.9,169.9 557.1,171.3 558.4,172.8 559.6,174.5 560.8,176.3 562.1,178.2 563.3,180.3 564.5,182.5 565.8,184.9 567.0,187.3 568.2,189.9 569.5,192.6 570.7,195.4 571.9,198.3 573.1,201.3 574.4,204.4 575.6,207.6 576.8,210.8 578.1,214.2 579.3,217.5 580.5,221.0 581.8,224.5 583.0,228.0 584.2,231.5 585.5,235.1 586.7,238.6 587.9,242.2 589.2,245.7 590.4,249.2 591.6,252.6 592.9,256.0 594.1,259.4 595.3,262.6 596.6,265.8 597.8,268.8 599.0,271.8 600.2,274.6 601.5,277.3 602.7,279.8 603.9,282.1 605.2,284.3 606.4,286.3 607.6,288.1 608.9,289.7 610.1,291.0 611.3,292.2 612.6,293.1 613.8,293.7 615.0,294.1 616.3,294.2 617.5,294.0 618.7,293.6 620.0,292.8 621.2,291.8 622.4,290.5 623.6,288.8 624.9,286.9 626.1,284.6 627.3,282.1 628.6,279.2 629.8,276.0 631.0,272.5 632.3,268.7 633.5,264.6 634.7,260.2 636.0,255.5 637.2,250.5 638.4,245.2 639.7,239.7 640.9,233.9 642.1,227.8 643.4,221.5 644.6,215.0 645.8,208.2 647.0,201.3 648.3,194.2 649.5,186.9 650.7,179.4 652.0,171.9 653.2,164.2 654.4,156.4 655.7,148.5 656.9,140.6 658.1,132.7 659.4,124.8 660.6,116.8 661.8,109.0 663.1,101.2 664.3,93.5 665.5,85.9 666.8,78.4 668.0,71.2 669.2,64.1 670.5,57.3 671.7,50.7 672.9,44.3 674.1,38.3 675.4,32.6 676.6,27.3 677.8,22.3 679.1,17.8 680.3,13.6 681.5,9.9 682.8,6.7 684.0,4.0"/>
</g>
<path class="ax" d="M35.5,33.2V286.5M35.5,129.4H328.2M35.5,285.8h-3.3M35.5,266.2h-1.7M35.5,246.7h-3.3M35.5,227.2h-1.7M35.5,207.6h-3.3M35.5,188.1h-1.7M35.5,168.5h-3.3M35.5,149.0h-1.7M35.5,109.9h-1.7M35.5,90.3h-3.3M35.5,70.8h-1.7M35.5,51.2h-3.3M65.5,129.4v1.7M94.5,129.4v3.3M123.5,129.4v1.7M152.5,129.4v3.3M182.5,129.4v1.7M211.5,129.4v3.3M240.5,129.4v1.7M269.5,129.4v3.3M299.5,129.4v1.7M328.5,129.4v3.3"/>
<path class="ax" d="M388.4,0.0V294.2M388.4,201.3H684.5M388.4,281.4h-1.7M388.4,254.7h-3.4M388.4,228.0h-1.7M388.4,201.3h-3.4M388.4,174.6h-1.7M388.4,147.9h-3.4M388.4,121.2h-1.7M388.4,94.5h-3.4M388.4,67.8h-1.7M388.4,41.1h-3.4M388.4,14.4h-1.7M418.5,201.3v1.7M447.5,201.3v3.3M477.5,201.3v1.7M506.5,201.3v3.3M536.5,201.3v1.7M566.5,201.3v3.3M595.5,201.3v1.7M625.5,201.3v3.3M654.5,201.3v1.7M684.5,201.3v3.3"/>
<rect class="ax" x="24.4" y="295.6" width="283.6" height="28.7" style="stroke:#2a2a2a;stroke-width:1"/>
<path class="c" stroke="#00ff00" d="M26.8,309.0h25.7"/>
<text class="sg" transform="translate(56.3 312.2) scale(1.15 1)" font-size="9.9">𝒢</text>
<text x="65.8" y="308.5" font-size="9.4">2</text>
<text x="65.3" y="318.5" font-size="9.4">10</text>
<path class="c" stroke="#ff0000" d="M78.2,309.0h25.7"/>
<text class="sg" transform="translate(107.7 312.2) scale(1.15 1)" font-size="9.9">𝒢</text>
<text x="117.2" y="308.5" font-size="9.4">2</text>
<text x="116.7" y="318.5" font-size="9.4">20</text>
<path class="c" stroke="#50335a" d="M129.6,309.0h25.7"/>
<text class="sg" transform="translate(159.1 312.2) scale(1.15 1)" font-size="9.9">𝒢</text>
<text x="168.6" y="308.5" font-size="9.4">2</text>
<text x="168.1" y="318.5" font-size="9.4">50</text>
<path class="c" stroke="#0000ff" d="M181.0,309.6h25.7"/>
<text class="t" x="211.2" y="314.6" style="font-size:9.8px" textLength="20.5" lengthAdjust="spacingAndGlyphs">ϑ(z)=</text>
<text transform="translate(233.2 318.7) scale(0.5 1)" style="font-size:25.5px">(</text>
<text class="t i" x="239" y="314.6" style="font-size:9.6px">z</text>
<text class="t" x="244.6" y="314.4" style="font-size:9.6px">-</text>
<text x="254" y="308.7" text-anchor="middle" style="font-size:9.4px">1</text>
<path class="ax" d="M250.2,311.4H257.8" style="stroke-width:.8"/>
<text x="254" y="321.5" text-anchor="middle" style="font-size:9.4px">4</text>
<text transform="translate(260.4 318.7) scale(0.5 1)" style="font-size:25.5px">)</text>
<text x="265.3" y="304.6" style="font-size:8px">2</text>
<text class="t" x="269.2" y="314.6" style="font-size:9.6px">sin</text>
<text x="281.4" y="314.6" style="font-size:10.8px">(</text>
<text class="t" x="285.8" y="314.6" style="font-size:9.6px" textLength="13.8" lengthAdjust="spacingAndGlyphs">4<tspan class="i">πz</tspan></text>
<text x="300.6" y="314.6" style="font-size:10.8px">)</text>
<rect class="ax" x="369.3" y="299.6" width="308" height="24.5" style="stroke:#2a2a2a;stroke-width:1"/>
<path class="c" stroke="#00ff00" d="M372.3,311.0h28.5"/>
<text class="sg" transform="translate(405.7 314.6) scale(1.15 1)" font-size="11.6">𝒢</text>
<text x="415.3" y="309.8" font-size="9.8">2</text>
<text x="414.6" y="321.5" font-size="10.4">10</text>
<path class="c" stroke="#ff0000" d="M429.5,311.0h28.5"/>
<text class="sg" transform="translate(462.9 314.6) scale(1.15 1)" font-size="11.6">𝒢</text>
<text x="472.5" y="309.8" font-size="9.8">2</text>
<text x="471.8" y="321.5" font-size="10.4">20</text>
<path class="c" stroke="#50335a" d="M486.7,311.0h28.5"/>
<text class="sg" transform="translate(520.1 314.6) scale(1.15 1)" font-size="11.6">𝒢</text>
<text x="529.7" y="309.8" font-size="9.8">2</text>
<text x="529.0" y="321.5" font-size="10.4">50</text>
<path class="c" stroke="#0000ff" d="M543.9,311.0h28.5"/>
<text x="576.8" y="317.8" style="font-size:12.3px">ϑ(z)=</text>
<text class="i" x="603.9" y="317.8" style="font-size:11px">z</text>
<text x="608.3" y="317.8" style="font-size:12.5px">e</text>
<text x="614.4" y="311.8" style="font-size:9.6px">2</text>
<text class="i" x="621.8" y="311.4" style="font-size:8.6px">z</text>
<text x="624.9" y="317.8" style="font-size:12.5px">cos</text>
<text transform="translate(641.3 318.2) scale(0.7 1)" style="font-size:17px">(</text>
<text x="646.4" y="317.8" style="font-size:12px">4</text>
<text class="i" x="656.2" y="317.8" style="font-size:12px">π</text>
<text class="i" x="662.4" y="317.8" style="font-size:12px">z</text>
<text transform="translate(668.0 318.2) scale(0.7 1)" style="font-size:17px">)</text>
<rect x="0" y="347" width="2.5" height="2" fill="#222"/>
</svg></body></html>
